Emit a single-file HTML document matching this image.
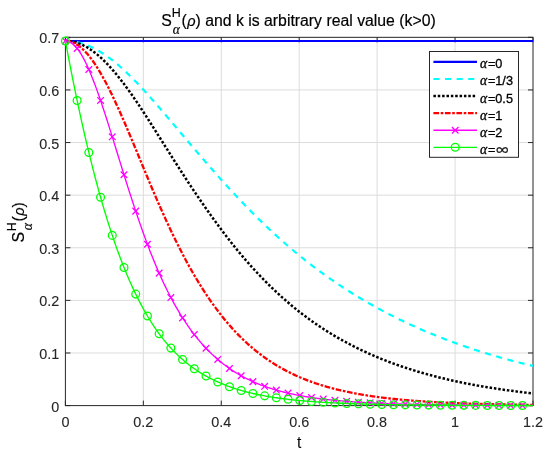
<!DOCTYPE html>
<html><head><meta charset="utf-8"><title>plot</title>
<style>html,body{margin:0;padding:0;background:#fff;}svg{display:block;}</style>
</head><body>
<svg width="550" height="457" viewBox="0 0 550 457">
<rect width="550" height="457" fill="#fff"/>
<g stroke="#dcdcdc" stroke-width="1" fill="none">
<line x1="143.33" y1="37.33" x2="143.33" y2="405.60"/>
<line x1="221.27" y1="37.33" x2="221.27" y2="405.60"/>
<line x1="299.20" y1="37.33" x2="299.20" y2="405.60"/>
<line x1="377.13" y1="37.33" x2="377.13" y2="405.60"/>
<line x1="455.07" y1="37.33" x2="455.07" y2="405.60"/>
<line x1="65.40" y1="352.99" x2="533.00" y2="352.99"/>
<line x1="65.40" y1="300.38" x2="533.00" y2="300.38"/>
<line x1="65.40" y1="247.77" x2="533.00" y2="247.77"/>
<line x1="65.40" y1="195.16" x2="533.00" y2="195.16"/>
<line x1="65.40" y1="142.55" x2="533.00" y2="142.55"/>
<line x1="65.40" y1="89.94" x2="533.00" y2="89.94"/>
</g>
<g stroke="#262626" stroke-width="1" fill="none">
<line x1="65.40" y1="405.60" x2="65.40" y2="400.60"/>
<line x1="65.40" y1="37.33" x2="65.40" y2="42.33"/>
<line x1="143.33" y1="405.60" x2="143.33" y2="400.60"/>
<line x1="143.33" y1="37.33" x2="143.33" y2="42.33"/>
<line x1="221.27" y1="405.60" x2="221.27" y2="400.60"/>
<line x1="221.27" y1="37.33" x2="221.27" y2="42.33"/>
<line x1="299.20" y1="405.60" x2="299.20" y2="400.60"/>
<line x1="299.20" y1="37.33" x2="299.20" y2="42.33"/>
<line x1="377.13" y1="405.60" x2="377.13" y2="400.60"/>
<line x1="377.13" y1="37.33" x2="377.13" y2="42.33"/>
<line x1="455.07" y1="405.60" x2="455.07" y2="400.60"/>
<line x1="455.07" y1="37.33" x2="455.07" y2="42.33"/>
<line x1="533.00" y1="405.60" x2="533.00" y2="400.60"/>
<line x1="533.00" y1="37.33" x2="533.00" y2="42.33"/>
<line x1="65.40" y1="405.60" x2="70.40" y2="405.60"/>
<line x1="533.00" y1="405.60" x2="528.00" y2="405.60"/>
<line x1="65.40" y1="352.99" x2="70.40" y2="352.99"/>
<line x1="533.00" y1="352.99" x2="528.00" y2="352.99"/>
<line x1="65.40" y1="300.38" x2="70.40" y2="300.38"/>
<line x1="533.00" y1="300.38" x2="528.00" y2="300.38"/>
<line x1="65.40" y1="247.77" x2="70.40" y2="247.77"/>
<line x1="533.00" y1="247.77" x2="528.00" y2="247.77"/>
<line x1="65.40" y1="195.16" x2="70.40" y2="195.16"/>
<line x1="533.00" y1="195.16" x2="528.00" y2="195.16"/>
<line x1="65.40" y1="142.55" x2="70.40" y2="142.55"/>
<line x1="533.00" y1="142.55" x2="528.00" y2="142.55"/>
<line x1="65.40" y1="89.94" x2="70.40" y2="89.94"/>
<line x1="533.00" y1="89.94" x2="528.00" y2="89.94"/>
<line x1="65.40" y1="37.33" x2="70.40" y2="37.33"/>
<line x1="533.00" y1="37.33" x2="528.00" y2="37.33"/>
<rect x="65.40" y="37.33" width="467.60" height="368.27"/>
</g>
<g style="font-family:'Liberation Sans',Arial,Helvetica,sans-serif;font-size:14.4px" fill="#262626" stroke="#262626" stroke-width="0.1">
<text x="65.40" y="426.8" text-anchor="middle">0</text>
<text x="143.33" y="426.8" text-anchor="middle">0.2</text>
<text x="221.27" y="426.8" text-anchor="middle">0.4</text>
<text x="299.20" y="426.8" text-anchor="middle">0.6</text>
<text x="377.13" y="426.8" text-anchor="middle">0.8</text>
<text x="455.07" y="426.8" text-anchor="middle">1</text>
<text x="533.00" y="426.8" text-anchor="middle">1.2</text>
<text x="59.2" y="411.60" text-anchor="end">0</text>
<text x="59.2" y="358.99" text-anchor="end">0.1</text>
<text x="59.2" y="306.38" text-anchor="end">0.2</text>
<text x="59.2" y="253.77" text-anchor="end">0.3</text>
<text x="59.2" y="201.16" text-anchor="end">0.4</text>
<text x="59.2" y="148.55" text-anchor="end">0.5</text>
<text x="59.2" y="95.94" text-anchor="end">0.6</text>
<text x="59.2" y="43.33" text-anchor="end">0.7</text>
</g>
<g fill="none" stroke-linejoin="round">
<path d="M65.40 40.94 L533.00 40.94" stroke="#0000ff" stroke-width="2.1"/>
<path d="M65.40,40.94 L66.57,40.95 L67.74,40.99 L68.92,41.05 L70.09,41.14 L71.26,41.25 L72.43,41.39 L73.60,41.56 L74.78,41.75 L75.95,41.96 L77.12,42.20 L78.29,42.46 L79.46,42.75 L80.64,43.07 L81.81,43.41 L82.98,43.77 L84.15,44.16 L85.32,44.57 L86.49,45.00 L87.67,45.46 L88.84,45.94 L90.01,46.45 L91.18,46.98 L92.35,47.53 L93.53,48.10 L94.70,48.70 L95.87,49.32 L97.04,49.96 L98.21,50.62 L99.39,51.30 L100.56,52.01 L101.73,52.74 L102.90,53.48 L104.07,54.25 L105.25,55.04 L106.42,55.85 L107.59,56.67 L108.76,57.52 L109.93,58.39 L111.11,59.27 L112.28,60.17 L113.45,61.10 L114.62,62.03 L115.79,62.99 L116.96,63.96 L118.14,64.95 L119.31,65.96 L120.48,66.98 L121.65,68.02 L122.82,69.08 L124.00,70.14 L125.17,71.23 L126.34,72.33 L127.51,73.44 L128.68,74.57 L129.86,75.71 L131.03,76.86 L132.20,78.03 L133.37,79.21 L134.54,80.40 L135.72,81.60 L136.89,82.81 L138.06,84.04 L139.23,85.28 L140.40,86.52 L141.58,87.78 L142.75,89.05 L143.92,90.33 L145.09,91.61 L146.26,92.90 L147.44,94.20 L148.61,95.51 L149.78,96.82 L150.95,98.14 L152.12,99.47 L153.29,100.80 L154.47,102.14 L155.64,103.48 L156.81,104.83 L157.98,106.18 L159.15,107.53 L160.33,108.89 L161.50,110.25 L162.67,111.62 L163.84,112.99 L165.01,114.36 L166.19,115.73 L167.36,117.11 L168.53,118.48 L169.70,119.86 L170.87,121.24 L172.05,122.63 L173.22,124.01 L174.39,125.39 L175.56,126.78 L176.73,128.16 L177.91,129.55 L179.08,130.93 L180.25,132.32 L181.42,133.70 L182.59,135.08 L183.76,136.47 L184.94,137.85 L186.11,139.23 L187.28,140.61 L188.45,141.99 L189.62,143.37 L190.80,144.74 L191.97,146.12 L193.14,147.49 L194.31,148.86 L195.48,150.23 L196.66,151.60 L197.83,152.97 L199.00,154.33 L200.17,155.69 L201.34,157.05 L202.52,158.40 L203.69,159.76 L204.86,161.11 L206.03,162.46 L207.20,163.80 L208.38,165.14 L209.55,166.48 L210.72,167.82 L211.89,169.16 L213.06,170.49 L214.24,171.82 L215.41,173.14 L216.58,174.47 L217.75,175.79 L218.92,177.11 L220.09,178.42 L221.27,179.73 L222.44,181.04 L223.61,182.34 L224.78,183.64 L225.95,184.94 L227.13,186.23 L228.30,187.51 L229.47,188.79 L230.64,190.07 L231.81,191.34 L232.99,192.60 L234.16,193.86 L235.33,195.12 L236.50,196.37 L237.67,197.62 L238.85,198.86 L240.02,200.09 L241.19,201.32 L242.36,202.55 L243.53,203.76 L244.71,204.98 L245.88,206.19 L247.05,207.39 L248.22,208.59 L249.39,209.78 L250.56,210.97 L251.74,212.15 L252.91,213.33 L254.08,214.50 L255.25,215.66 L256.42,216.82 L257.60,217.98 L258.77,219.13 L259.94,220.27 L261.11,221.41 L262.28,222.54 L263.46,223.67 L264.63,224.79 L265.80,225.90 L266.97,227.01 L268.14,228.12 L269.32,229.22 L270.49,230.31 L271.66,231.40 L272.83,232.48 L274.00,233.55 L275.18,234.63 L276.35,235.69 L277.52,236.75 L278.69,237.80 L279.86,238.85 L281.04,239.90 L282.21,240.93 L283.38,241.97 L284.55,242.99 L285.72,244.01 L286.89,245.03 L288.07,246.04 L289.24,247.05 L290.41,248.05 L291.58,249.04 L292.75,250.03 L293.93,251.01 L295.10,251.99 L296.27,252.96 L297.44,253.93 L298.61,254.89 L299.79,255.85 L300.96,256.80 L302.13,257.75 L303.30,258.69 L304.47,259.62 L305.65,260.55 L306.82,261.47 L307.99,262.39 L309.16,263.30 L310.33,264.21 L311.51,265.11 L312.68,266.01 L313.85,266.90 L315.02,267.78 L316.19,268.66 L317.36,269.53 L318.54,270.40 L319.71,271.27 L320.88,272.13 L322.05,272.98 L323.22,273.83 L324.40,274.67 L325.57,275.51 L326.74,276.34 L327.91,277.17 L329.08,277.99 L330.26,278.81 L331.43,279.62 L332.60,280.43 L333.77,281.23 L334.94,282.03 L336.12,282.83 L337.29,283.61 L338.46,284.40 L339.63,285.18 L340.80,285.95 L341.98,286.72 L343.15,287.49 L344.32,288.25 L345.49,289.01 L346.66,289.76 L347.84,290.50 L349.01,291.25 L350.18,291.99 L351.35,292.72 L352.52,293.45 L353.69,294.18 L354.87,294.90 L356.04,295.62 L357.21,296.33 L358.38,297.04 L359.55,297.74 L360.73,298.44 L361.90,299.14 L363.07,299.83 L364.24,300.52 L365.41,301.21 L366.59,301.89 L367.76,302.56 L368.93,303.24 L370.10,303.90 L371.27,304.57 L372.45,305.23 L373.62,305.89 L374.79,306.54 L375.96,307.19 L377.13,307.84 L378.31,308.48 L379.48,309.12 L380.65,309.76 L381.82,310.39 L382.99,311.02 L384.16,311.64 L385.34,312.26 L386.51,312.87 L387.68,313.48 L388.85,314.09 L390.02,314.70 L391.20,315.30 L392.37,315.89 L393.54,316.48 L394.71,317.07 L395.88,317.66 L397.06,318.24 L398.23,318.82 L399.40,319.39 L400.57,319.96 L401.74,320.53 L402.92,321.09 L404.09,321.65 L405.26,322.21 L406.43,322.76 L407.60,323.31 L408.78,323.86 L409.95,324.40 L411.12,324.94 L412.29,325.48 L413.46,326.01 L414.64,326.54 L415.81,327.07 L416.98,327.59 L418.15,328.11 L419.32,328.63 L420.49,329.14 L421.67,329.65 L422.84,330.16 L424.01,330.66 L425.18,331.16 L426.35,331.66 L427.53,332.15 L428.70,332.64 L429.87,333.13 L431.04,333.62 L432.21,334.10 L433.39,334.58 L434.56,335.05 L435.73,335.53 L436.90,336.00 L438.07,336.47 L439.25,336.93 L440.42,337.39 L441.59,337.85 L442.76,338.31 L443.93,338.76 L445.11,339.21 L446.28,339.66 L447.45,340.11 L448.62,340.55 L449.79,340.99 L450.96,341.42 L452.14,341.86 L453.31,342.29 L454.48,342.72 L455.65,343.15 L456.82,343.57 L458.00,343.99 L459.17,344.41 L460.34,344.82 L461.51,345.24 L462.68,345.65 L463.86,346.05 L465.03,346.46 L466.20,346.86 L467.37,347.26 L468.54,347.66 L469.72,348.05 L470.89,348.44 L472.06,348.83 L473.23,349.22 L474.40,349.60 L475.58,349.98 L476.75,350.36 L477.92,350.74 L479.09,351.11 L480.26,351.48 L481.44,351.85 L482.61,352.22 L483.78,352.59 L484.95,352.95 L486.12,353.31 L487.29,353.66 L488.47,354.02 L489.64,354.37 L490.81,354.72 L491.98,355.07 L493.15,355.42 L494.33,355.76 L495.50,356.10 L496.67,356.44 L497.84,356.78 L499.01,357.11 L500.19,357.45 L501.36,357.78 L502.53,358.11 L503.70,358.43 L504.87,358.76 L506.05,359.08 L507.22,359.40 L508.39,359.72 L509.56,360.04 L510.73,360.35 L511.91,360.66 L513.08,360.97 L514.25,361.28 L515.42,361.59 L516.59,361.89 L517.76,362.19 L518.94,362.49 L520.11,362.79 L521.28,363.09 L522.45,363.38 L523.62,363.68 L524.80,363.97 L525.97,364.26 L527.14,364.54 L528.31,364.83 L529.48,365.11 L530.66,365.40 L531.83,365.68 L533.00,365.95" stroke="#00ffff" stroke-width="2.2" stroke-dasharray="6.1 5.5"/>
<path d="M65.40,40.94 L66.57,40.95 L67.74,41.01 L68.92,41.11 L70.09,41.24 L71.26,41.41 L72.43,41.62 L73.60,41.87 L74.78,42.15 L75.95,42.47 L77.12,42.83 L78.29,43.23 L79.46,43.66 L80.64,44.13 L81.81,44.64 L82.98,45.18 L84.15,45.76 L85.32,46.37 L86.49,47.02 L87.67,47.70 L88.84,48.42 L90.01,49.18 L91.18,49.96 L92.35,50.78 L93.53,51.64 L94.70,52.53 L95.87,53.45 L97.04,54.40 L98.21,55.38 L99.39,56.39 L100.56,57.44 L101.73,58.51 L102.90,59.62 L104.07,60.75 L105.25,61.92 L106.42,63.11 L107.59,64.33 L108.76,65.57 L109.93,66.84 L111.11,68.14 L112.28,69.47 L113.45,70.81 L114.62,72.19 L115.79,73.58 L116.96,75.00 L118.14,76.45 L119.31,77.91 L120.48,79.40 L121.65,80.91 L122.82,82.43 L124.00,83.98 L125.17,85.55 L126.34,87.14 L127.51,88.74 L128.68,90.36 L129.86,92.00 L131.03,93.65 L132.20,95.33 L133.37,97.01 L134.54,98.71 L135.72,100.43 L136.89,102.16 L138.06,103.90 L139.23,105.65 L140.40,107.42 L141.58,109.19 L142.75,110.98 L143.92,112.78 L145.09,114.58 L146.26,116.40 L147.44,118.22 L148.61,120.04 L149.78,121.88 L150.95,123.71 L152.12,125.56 L153.29,127.40 L154.47,129.25 L155.64,131.10 L156.81,132.96 L157.98,134.82 L159.15,136.68 L160.33,138.54 L161.50,140.40 L162.67,142.26 L163.84,144.12 L165.01,145.98 L166.19,147.84 L167.36,149.70 L168.53,151.56 L169.70,153.41 L170.87,155.27 L172.05,157.12 L173.22,158.96 L174.39,160.81 L175.56,162.65 L176.73,164.48 L177.91,166.32 L179.08,168.14 L180.25,169.97 L181.42,171.79 L182.59,173.60 L183.76,175.41 L184.94,177.21 L186.11,179.01 L187.28,180.80 L188.45,182.58 L189.62,184.36 L190.80,186.13 L191.97,187.90 L193.14,189.65 L194.31,191.41 L195.48,193.15 L196.66,194.89 L197.83,196.62 L199.00,198.34 L200.17,200.05 L201.34,201.76 L202.52,203.46 L203.69,205.15 L204.86,206.84 L206.03,208.51 L207.20,210.18 L208.38,211.84 L209.55,213.49 L210.72,215.14 L211.89,216.78 L213.06,218.40 L214.24,220.02 L215.41,221.64 L216.58,223.24 L217.75,224.83 L218.92,226.42 L220.09,228.00 L221.27,229.57 L222.44,231.13 L223.61,232.69 L224.78,234.23 L225.95,235.76 L227.13,237.28 L228.30,238.79 L229.47,240.30 L230.64,241.79 L231.81,243.27 L232.99,244.74 L234.16,246.20 L235.33,247.65 L236.50,249.09 L237.67,250.52 L238.85,251.94 L240.02,253.35 L241.19,254.75 L242.36,256.14 L243.53,257.52 L244.71,258.88 L245.88,260.24 L247.05,261.59 L248.22,262.93 L249.39,264.25 L250.56,265.57 L251.74,266.88 L252.91,268.17 L254.08,269.46 L255.25,270.73 L256.42,272.00 L257.60,273.25 L258.77,274.50 L259.94,275.74 L261.11,276.96 L262.28,278.18 L263.46,279.38 L264.63,280.58 L265.80,281.76 L266.97,282.94 L268.14,284.11 L269.32,285.26 L270.49,286.41 L271.66,287.55 L272.83,288.68 L274.00,289.79 L275.18,290.90 L276.35,292.00 L277.52,293.09 L278.69,294.17 L279.86,295.24 L281.04,296.31 L282.21,297.36 L283.38,298.40 L284.55,299.44 L285.72,300.46 L286.89,301.48 L288.07,302.49 L289.24,303.49 L290.41,304.48 L291.58,305.46 L292.75,306.44 L293.93,307.40 L295.10,308.36 L296.27,309.30 L297.44,310.24 L298.61,311.17 L299.79,312.10 L300.96,313.01 L302.13,313.92 L303.30,314.81 L304.47,315.70 L305.65,316.58 L306.82,317.45 L307.99,318.32 L309.16,319.17 L310.33,320.02 L311.51,320.86 L312.68,321.69 L313.85,322.51 L315.02,323.33 L316.19,324.14 L317.36,324.94 L318.54,325.73 L319.71,326.52 L320.88,327.29 L322.05,328.06 L323.22,328.83 L324.40,329.58 L325.57,330.33 L326.74,331.07 L327.91,331.81 L329.08,332.53 L330.26,333.25 L331.43,333.97 L332.60,334.67 L333.77,335.37 L334.94,336.07 L336.12,336.75 L337.29,337.44 L338.46,338.11 L339.63,338.78 L340.80,339.44 L341.98,340.09 L343.15,340.74 L344.32,341.38 L345.49,342.02 L346.66,342.65 L347.84,343.28 L349.01,343.89 L350.18,344.51 L351.35,345.11 L352.52,345.72 L353.69,346.31 L354.87,346.90 L356.04,347.49 L357.21,348.06 L358.38,348.64 L359.55,349.21 L360.73,349.77 L361.90,350.33 L363.07,350.88 L364.24,351.43 L365.41,351.97 L366.59,352.51 L367.76,353.04 L368.93,353.57 L370.10,354.09 L371.27,354.61 L372.45,355.12 L373.62,355.63 L374.79,356.13 L375.96,356.63 L377.13,357.12 L378.31,357.61 L379.48,358.10 L380.65,358.58 L381.82,359.05 L382.99,359.52 L384.16,359.99 L385.34,360.45 L386.51,360.91 L387.68,361.36 L388.85,361.81 L390.02,362.25 L391.20,362.69 L392.37,363.12 L393.54,363.56 L394.71,363.98 L395.88,364.40 L397.06,364.82 L398.23,365.24 L399.40,365.64 L400.57,366.05 L401.74,366.45 L402.92,366.85 L404.09,367.24 L405.26,367.63 L406.43,368.02 L407.60,368.40 L408.78,368.78 L409.95,369.15 L411.12,369.53 L412.29,369.89 L413.46,370.26 L414.64,370.62 L415.81,370.97 L416.98,371.33 L418.15,371.68 L419.32,372.02 L420.49,372.37 L421.67,372.71 L422.84,373.04 L424.01,373.37 L425.18,373.70 L426.35,374.03 L427.53,374.35 L428.70,374.67 L429.87,374.99 L431.04,375.30 L432.21,375.61 L433.39,375.92 L434.56,376.23 L435.73,376.53 L436.90,376.83 L438.07,377.12 L439.25,377.42 L440.42,377.71 L441.59,377.99 L442.76,378.28 L443.93,378.56 L445.11,378.84 L446.28,379.11 L447.45,379.39 L448.62,379.66 L449.79,379.93 L450.96,380.19 L452.14,380.45 L453.31,380.71 L454.48,380.97 L455.65,381.23 L456.82,381.48 L458.00,381.73 L459.17,381.98 L460.34,382.22 L461.51,382.46 L462.68,382.70 L463.86,382.94 L465.03,383.18 L466.20,383.41 L467.37,383.64 L468.54,383.87 L469.72,384.09 L470.89,384.32 L472.06,384.54 L473.23,384.76 L474.40,384.97 L475.58,385.19 L476.75,385.40 L477.92,385.61 L479.09,385.82 L480.26,386.02 L481.44,386.23 L482.61,386.43 L483.78,386.63 L484.95,386.83 L486.12,387.02 L487.29,387.22 L488.47,387.41 L489.64,387.60 L490.81,387.79 L491.98,387.97 L493.15,388.16 L494.33,388.34 L495.50,388.52 L496.67,388.70 L497.84,388.87 L499.01,389.05 L500.19,389.22 L501.36,389.39 L502.53,389.56 L503.70,389.73 L504.87,389.90 L506.05,390.06 L507.22,390.22 L508.39,390.38 L509.56,390.54 L510.73,390.70 L511.91,390.86 L513.08,391.01 L514.25,391.17 L515.42,391.32 L516.59,391.47 L517.76,391.62 L518.94,391.77 L520.11,391.91 L521.28,392.06 L522.45,392.20 L523.62,392.34 L524.80,392.48 L525.97,392.62 L527.14,392.76 L528.31,392.89 L529.48,393.03 L530.66,393.16 L531.83,393.29 L533.00,393.42" stroke="#000000" stroke-width="2.5" stroke-dasharray="2.5 1.86"/>
<path d="M65.40,40.94 L66.57,40.97 L67.74,41.09 L68.92,41.28 L70.09,41.54 L71.26,41.89 L72.43,42.30 L73.60,42.79 L74.78,43.36 L75.95,44.00 L77.12,44.71 L78.29,45.50 L79.46,46.36 L80.64,47.29 L81.81,48.29 L82.98,49.36 L84.15,50.50 L85.32,51.71 L86.49,52.99 L87.67,54.33 L88.84,55.73 L90.01,57.20 L91.18,58.74 L92.35,60.33 L93.53,61.98 L94.70,63.69 L95.87,65.46 L97.04,67.29 L98.21,69.17 L99.39,71.10 L100.56,73.09 L101.73,75.12 L102.90,77.21 L104.07,79.34 L105.25,81.52 L106.42,83.74 L107.59,86.00 L108.76,88.31 L109.93,90.65 L111.11,93.04 L112.28,95.45 L113.45,97.91 L114.62,100.39 L115.79,102.91 L116.96,105.46 L118.14,108.04 L119.31,110.64 L120.48,113.27 L121.65,115.92 L122.82,118.60 L124.00,121.29 L125.17,124.00 L126.34,126.74 L127.51,129.48 L128.68,132.25 L129.86,135.02 L131.03,137.81 L132.20,140.61 L133.37,143.41 L134.54,146.23 L135.72,149.05 L136.89,151.87 L138.06,154.70 L139.23,157.53 L140.40,160.37 L141.58,163.20 L142.75,166.03 L143.92,168.86 L145.09,171.69 L146.26,174.51 L147.44,177.32 L148.61,180.12 L149.78,182.91 L150.95,185.69 L152.12,188.45 L153.29,191.21 L154.47,193.95 L155.64,196.68 L156.81,199.39 L157.98,202.08 L159.15,204.76 L160.33,207.42 L161.50,210.07 L162.67,212.69 L163.84,215.30 L165.01,217.88 L166.19,220.45 L167.36,223.00 L168.53,225.52 L169.70,228.03 L170.87,230.51 L172.05,232.97 L173.22,235.41 L174.39,237.82 L175.56,240.21 L176.73,242.58 L177.91,244.93 L179.08,247.25 L180.25,249.55 L181.42,251.83 L182.59,254.08 L183.76,256.31 L184.94,258.52 L186.11,260.70 L187.28,262.85 L188.45,264.99 L189.62,267.10 L190.80,269.18 L191.97,271.24 L193.14,273.28 L194.31,275.29 L195.48,277.28 L196.66,279.25 L197.83,281.19 L199.00,283.11 L200.17,285.00 L201.34,286.88 L202.52,288.72 L203.69,290.55 L204.86,292.35 L206.03,294.13 L207.20,295.89 L208.38,297.63 L209.55,299.34 L210.72,301.03 L211.89,302.70 L213.06,304.35 L214.24,305.98 L215.41,307.58 L216.58,309.17 L217.75,310.73 L218.92,312.27 L220.09,313.80 L221.27,315.30 L222.44,316.78 L223.61,318.24 L224.78,319.68 L225.95,321.10 L227.13,322.49 L228.30,323.87 L229.47,325.23 L230.64,326.56 L231.81,327.88 L232.99,329.17 L234.16,330.45 L235.33,331.71 L236.50,332.95 L237.67,334.17 L238.85,335.37 L240.02,336.55 L241.19,337.71 L242.36,338.86 L243.53,339.99 L244.71,341.10 L245.88,342.19 L247.05,343.27 L248.22,344.32 L249.39,345.37 L250.56,346.39 L251.74,347.40 L252.91,348.39 L254.08,349.37 L255.25,350.33 L256.42,351.28 L257.60,352.21 L258.77,353.13 L259.94,354.03 L261.11,354.91 L262.28,355.79 L263.46,356.64 L264.63,357.49 L265.80,358.32 L266.97,359.14 L268.14,359.94 L269.32,360.73 L270.49,361.51 L271.66,362.27 L272.83,363.02 L274.00,363.76 L275.18,364.49 L276.35,365.20 L277.52,365.91 L278.69,366.60 L279.86,367.28 L281.04,367.95 L282.21,368.60 L283.38,369.25 L284.55,369.88 L285.72,370.51 L286.89,371.12 L288.07,371.73 L289.24,372.32 L290.41,372.90 L291.58,373.48 L292.75,374.04 L293.93,374.60 L295.10,375.14 L296.27,375.68 L297.44,376.21 L298.61,376.72 L299.79,377.23 L300.96,377.73 L302.13,378.23 L303.30,378.71 L304.47,379.18 L305.65,379.65 L306.82,380.11 L307.99,380.56 L309.16,381.00 L310.33,381.44 L311.51,381.86 L312.68,382.28 L313.85,382.69 L315.02,383.10 L316.19,383.50 L317.36,383.89 L318.54,384.27 L319.71,384.65 L320.88,385.02 L322.05,385.38 L323.22,385.74 L324.40,386.09 L325.57,386.44 L326.74,386.78 L327.91,387.11 L329.08,387.44 L330.26,387.76 L331.43,388.08 L332.60,388.39 L333.77,388.69 L334.94,388.99 L336.12,389.29 L337.29,389.58 L338.46,389.86 L339.63,390.14 L340.80,390.42 L341.98,390.69 L343.15,390.95 L344.32,391.21 L345.49,391.47 L346.66,391.72 L347.84,391.97 L349.01,392.21 L350.18,392.45 L351.35,392.68 L352.52,392.91 L353.69,393.14 L354.87,393.36 L356.04,393.58 L357.21,393.80 L358.38,394.01 L359.55,394.22 L360.73,394.42 L361.90,394.62 L363.07,394.82 L364.24,395.01 L365.41,395.20 L366.59,395.39 L367.76,395.57 L368.93,395.75 L370.10,395.93 L371.27,396.10 L372.45,396.27 L373.62,396.44 L374.79,396.61 L375.96,396.77 L377.13,396.93 L378.31,397.09 L379.48,397.24 L380.65,397.39 L381.82,397.54 L382.99,397.69 L384.16,397.83 L385.34,397.97 L386.51,398.11 L387.68,398.25 L388.85,398.38 L390.02,398.51 L391.20,398.64 L392.37,398.77 L393.54,398.89 L394.71,399.01 L395.88,399.13 L397.06,399.25 L398.23,399.37 L399.40,399.48 L400.57,399.59 L401.74,399.70 L402.92,399.81 L404.09,399.91 L405.26,400.02 L406.43,400.12 L407.60,400.22 L408.78,400.32 L409.95,400.41 L411.12,400.51 L412.29,400.60 L413.46,400.69 L414.64,400.78 L415.81,400.87 L416.98,400.96 L418.15,401.04 L419.32,401.13 L420.49,401.21 L421.67,401.29 L422.84,401.37 L424.01,401.45 L425.18,401.52 L426.35,401.60 L427.53,401.67 L428.70,401.74 L429.87,401.81 L431.04,401.88 L432.21,401.95 L433.39,402.02 L434.56,402.08 L435.73,402.15 L436.90,402.21 L438.07,402.28 L439.25,402.34 L440.42,402.40 L441.59,402.46 L442.76,402.51 L443.93,402.57 L445.11,402.63 L446.28,402.68 L447.45,402.74 L448.62,402.79 L449.79,402.84 L450.96,402.89 L452.14,402.94 L453.31,402.99 L454.48,403.04 L455.65,403.09 L456.82,403.14 L458.00,403.18 L459.17,403.23 L460.34,403.27 L461.51,403.32 L462.68,403.36 L463.86,403.40 L465.03,403.44 L466.20,403.48 L467.37,403.52 L468.54,403.56 L469.72,403.60 L470.89,403.64 L472.06,403.67 L473.23,403.71 L474.40,403.74 L475.58,403.78 L476.75,403.81 L477.92,403.85 L479.09,403.88 L480.26,403.91 L481.44,403.94 L482.61,403.97 L483.78,404.00 L484.95,404.03 L486.12,404.06 L487.29,404.09 L488.47,404.12 L489.64,404.15 L490.81,404.18 L491.98,404.20 L493.15,404.23 L494.33,404.26 L495.50,404.28 L496.67,404.31 L497.84,404.33 L499.01,404.35 L500.19,404.38 L501.36,404.40 L502.53,404.42 L503.70,404.45 L504.87,404.47 L506.05,404.49 L507.22,404.51 L508.39,404.53 L509.56,404.55 L510.73,404.57 L511.91,404.59 L513.08,404.61 L514.25,404.63 L515.42,404.65 L516.59,404.66 L517.76,404.68 L518.94,404.70 L520.11,404.72 L521.28,404.73 L522.45,404.75 L523.62,404.77 L524.80,404.78 L525.97,404.80 L527.14,404.81 L528.31,404.83 L529.48,404.84 L530.66,404.86 L531.83,404.87 L533.00,404.89" stroke="#ff0000" stroke-width="2.3" stroke-dasharray="5.7 1.6 2.6 1.6"/>
<path d="M65.40,40.94 L66.57,41.01 L67.74,41.24 L68.92,41.62 L70.09,42.15 L71.26,42.83 L72.43,43.66 L73.60,44.64 L74.78,45.76 L75.95,47.02 L77.12,48.42 L78.29,49.96 L79.46,51.64 L80.64,53.45 L81.81,55.38 L82.98,57.44 L84.15,59.62 L85.32,61.92 L86.49,64.33 L87.67,66.84 L88.84,69.47 L90.01,72.19 L91.18,75.00 L92.35,77.91 L93.53,80.91 L94.70,83.98 L95.87,87.14 L97.04,90.36 L98.21,93.65 L99.39,97.01 L100.56,100.43 L101.73,103.90 L102.90,107.42 L104.07,110.98 L105.25,114.59 L106.42,118.23 L107.59,121.90 L108.76,125.61 L109.93,129.34 L111.11,133.09 L112.28,136.85 L113.45,140.63 L114.62,144.42 L115.79,148.22 L116.96,152.02 L118.14,155.82 L119.31,159.62 L120.48,163.41 L121.65,167.19 L122.82,170.97 L124.00,174.73 L125.17,178.47 L126.34,182.20 L127.51,185.90 L128.68,189.59 L129.86,193.25 L131.03,196.88 L132.20,200.49 L133.37,204.07 L134.54,207.61 L135.72,211.13 L136.89,214.61 L138.06,218.06 L139.23,221.47 L140.40,224.85 L141.58,228.18 L142.75,231.48 L143.92,234.74 L145.09,237.96 L146.26,241.14 L147.44,244.27 L148.61,247.36 L149.78,250.40 L150.95,253.40 L152.12,256.35 L153.29,259.26 L154.47,262.12 L155.64,264.94 L156.81,267.72 L157.98,270.45 L159.15,273.13 L160.33,275.77 L161.50,278.36 L162.67,280.91 L163.84,283.42 L165.01,285.88 L166.19,288.30 L167.36,290.68 L168.53,293.01 L169.70,295.31 L170.87,297.56 L172.05,299.76 L173.22,301.93 L174.39,304.06 L175.56,306.15 L176.73,308.20 L177.91,310.21 L179.08,312.18 L180.25,314.12 L181.42,316.01 L182.59,317.87 L183.76,319.70 L184.94,321.49 L186.11,323.24 L187.28,324.96 L188.45,326.65 L189.62,328.30 L190.80,329.92 L191.97,331.51 L193.14,333.07 L194.31,334.59 L195.48,336.09 L196.66,337.55 L197.83,338.99 L199.00,340.40 L200.17,341.77 L201.34,343.13 L202.52,344.45 L203.69,345.75 L204.86,347.02 L206.03,348.26 L207.20,349.48 L208.38,350.68 L209.55,351.85 L210.72,353.00 L211.89,354.12 L213.06,355.22 L214.24,356.30 L215.41,357.36 L216.58,358.40 L217.75,359.41 L218.92,360.40 L220.09,361.38 L221.27,362.33 L222.44,363.27 L223.61,364.18 L224.78,365.08 L225.95,365.95 L227.13,366.81 L228.30,367.65 L229.47,368.47 L230.64,369.27 L231.81,370.06 L232.99,370.83 L234.16,371.58 L235.33,372.31 L236.50,373.03 L237.67,373.74 L238.85,374.43 L240.02,375.10 L241.19,375.76 L242.36,376.41 L243.53,377.04 L244.71,377.66 L245.88,378.26 L247.05,378.85 L248.22,379.43 L249.39,380.00 L250.56,380.55 L251.74,381.09 L252.91,381.62 L254.08,382.14 L255.25,382.65 L256.42,383.14 L257.60,383.63 L258.77,384.10 L259.94,384.57 L261.11,385.02 L262.28,385.46 L263.46,385.90 L264.63,386.32 L265.80,386.74 L266.97,387.14 L268.14,387.54 L269.32,387.93 L270.49,388.31 L271.66,388.68 L272.83,389.05 L274.00,389.40 L275.18,389.75 L276.35,390.09 L277.52,390.43 L278.69,390.75 L279.86,391.07 L281.04,391.39 L282.21,391.69 L283.38,391.99 L284.55,392.28 L285.72,392.57 L286.89,392.85 L288.07,393.12 L289.24,393.39 L290.41,393.65 L291.58,393.91 L292.75,394.16 L293.93,394.40 L295.10,394.64 L296.27,394.88 L297.44,395.11 L298.61,395.33 L299.79,395.55 L300.96,395.77 L302.13,395.98 L303.30,396.18 L304.47,396.39 L305.65,396.58 L306.82,396.77 L307.99,396.96 L309.16,397.15 L310.33,397.33 L311.51,397.50 L312.68,397.68 L313.85,397.84 L315.02,398.01 L316.19,398.17 L317.36,398.33 L318.54,398.48 L319.71,398.63 L320.88,398.78 L322.05,398.92 L323.22,399.07 L324.40,399.20 L325.57,399.34 L326.74,399.47 L327.91,399.60 L329.08,399.73 L330.26,399.85 L331.43,399.97 L332.60,400.09 L333.77,400.21 L334.94,400.32 L336.12,400.43 L337.29,400.54 L338.46,400.65 L339.63,400.75 L340.80,400.85 L341.98,400.95 L343.15,401.05 L344.32,401.15 L345.49,401.24 L346.66,401.33 L347.84,401.42 L349.01,401.51 L350.18,401.60 L351.35,401.68 L352.52,401.76 L353.69,401.84 L354.87,401.92 L356.04,402.00 L357.21,402.08 L358.38,402.15 L359.55,402.22 L360.73,402.29 L361.90,402.36 L363.07,402.43 L364.24,402.50 L365.41,402.56 L366.59,402.63 L367.76,402.69 L368.93,402.75 L370.10,402.81 L371.27,402.87 L372.45,402.93 L373.62,402.98 L374.79,403.04 L375.96,403.09 L377.13,403.14 L378.31,403.20 L379.48,403.25 L380.65,403.30 L381.82,403.34 L382.99,403.39 L384.16,403.44 L385.34,403.48 L386.51,403.53 L387.68,403.57 L388.85,403.61 L390.02,403.66 L391.20,403.70 L392.37,403.74 L393.54,403.78 L394.71,403.81 L395.88,403.85 L397.06,403.89 L398.23,403.92 L399.40,403.96 L400.57,403.99 L401.74,404.03 L402.92,404.06 L404.09,404.09 L405.26,404.12 L406.43,404.16 L407.60,404.19 L408.78,404.22 L409.95,404.24 L411.12,404.27 L412.29,404.30 L413.46,404.33 L414.64,404.36 L415.81,404.38 L416.98,404.41 L418.15,404.43 L419.32,404.46 L420.49,404.48 L421.67,404.50 L422.84,404.53 L424.01,404.55 L425.18,404.57 L426.35,404.59 L427.53,404.61 L428.70,404.63 L429.87,404.66 L431.04,404.67 L432.21,404.69 L433.39,404.71 L434.56,404.73 L435.73,404.75 L436.90,404.77 L438.07,404.79 L439.25,404.80 L440.42,404.82 L441.59,404.84 L442.76,404.85 L443.93,404.87 L445.11,404.88 L446.28,404.90 L447.45,404.91 L448.62,404.93 L449.79,404.94 L450.96,404.96 L452.14,404.97 L453.31,404.98 L454.48,405.00 L455.65,405.01 L456.82,405.02 L458.00,405.03 L459.17,405.04 L460.34,405.06 L461.51,405.07 L462.68,405.08 L463.86,405.09 L465.03,405.10 L466.20,405.11 L467.37,405.12 L468.54,405.13 L469.72,405.14 L470.89,405.15 L472.06,405.16 L473.23,405.17 L474.40,405.18 L475.58,405.19 L476.75,405.20 L477.92,405.21 L479.09,405.21 L480.26,405.22 L481.44,405.23 L482.61,405.24 L483.78,405.25 L484.95,405.25 L486.12,405.26 L487.29,405.27 L488.47,405.27 L489.64,405.28 L490.81,405.29 L491.98,405.29 L493.15,405.30 L494.33,405.31 L495.50,405.31 L496.67,405.32 L497.84,405.33 L499.01,405.33 L500.19,405.34 L501.36,405.34 L502.53,405.35 L503.70,405.35 L504.87,405.36 L506.05,405.36 L507.22,405.37 L508.39,405.37 L509.56,405.38 L510.73,405.38 L511.91,405.39 L513.08,405.39 L514.25,405.40 L515.42,405.40 L516.59,405.41 L517.76,405.41 L518.94,405.41 L520.11,405.42 L521.28,405.42 L522.45,405.42 L523.62,405.43 L524.80,405.43 L525.97,405.44 L527.14,405.44 L528.31,405.44 L529.48,405.45 L530.66,405.45 L531.83,405.45 L533.00,405.46" stroke="#ff00ff" stroke-width="1.35"/>
<g stroke="#ff00ff" stroke-width="1.3"><path d="M62.10 37.64L68.70 44.24M62.10 44.24L68.70 37.64"/>
<path d="M73.82 45.12L80.42 51.72M73.82 51.72L80.42 45.12"/>
<path d="M85.54 66.17L92.14 72.77M85.54 72.77L92.14 66.17"/>
<path d="M97.26 97.13L103.86 103.73M97.26 103.73L103.86 97.13"/>
<path d="M108.98 133.55L115.58 140.15M108.98 140.15L115.58 133.55"/>
<path d="M120.70 171.43L127.30 178.03M120.70 178.03L127.30 171.43"/>
<path d="M132.42 207.83L139.02 214.43M132.42 214.43L139.02 207.83"/>
<path d="M144.14 240.97L150.74 247.57M144.14 247.57L150.74 240.97"/>
<path d="M155.85 269.83L162.45 276.43M155.85 276.43L162.45 269.83"/>
<path d="M167.57 294.26L174.17 300.86M167.57 300.86L174.17 294.26"/>
<path d="M179.29 314.57L185.89 321.17M179.29 321.17L185.89 314.57"/>
<path d="M191.01 331.29L197.61 337.89M191.01 337.89L197.61 331.29"/>
<path d="M202.73 344.96L209.33 351.56M202.73 351.56L209.33 344.96"/>
<path d="M214.45 356.11L221.05 362.71M214.45 362.71L221.05 356.11"/>
<path d="M226.17 365.17L232.77 371.77M226.17 371.77L232.77 365.17"/>
<path d="M237.89 372.46L244.49 379.06M237.89 379.06L244.49 372.46"/>
<path d="M249.61 378.32L256.21 384.92M249.61 384.92L256.21 378.32"/>
<path d="M261.33 383.02L267.93 389.62M261.33 389.62L267.93 383.02"/>
<path d="M273.05 386.79L279.65 393.39M273.05 393.39L279.65 386.79"/>
<path d="M284.77 389.82L291.37 396.42M284.77 396.42L291.37 389.82"/>
<path d="M296.49 392.25L303.09 398.85M296.49 398.85L303.09 392.25"/>
<path d="M308.21 394.20L314.81 400.80M308.21 400.80L314.81 394.20"/>
<path d="M319.92 395.77L326.52 402.37M319.92 402.37L326.52 395.77"/>
<path d="M331.64 397.02L338.24 403.62M331.64 403.62L338.24 397.02"/>
<path d="M343.36 398.03L349.96 404.63M343.36 404.63L349.96 398.03"/>
<path d="M355.08 398.85L361.68 405.45M355.08 405.45L361.68 398.85"/>
<path d="M366.80 399.51L373.40 406.11M366.80 406.11L373.40 399.51"/>
<path d="M378.52 400.04L385.12 406.64M378.52 406.64L385.12 400.04"/>
<path d="M390.24 400.48L396.84 407.08M390.24 407.08L396.84 400.48"/>
<path d="M401.96 400.82L408.56 407.42M401.96 407.42L408.56 400.82"/>
<path d="M413.68 401.11L420.28 407.71M413.68 407.71L420.28 401.11"/>
<path d="M425.40 401.33L432.00 407.93M425.40 407.93L432.00 401.33"/>
<path d="M437.12 401.52L443.72 408.12M437.12 408.12L443.72 401.52"/>
<path d="M448.84 401.67L455.44 408.27M448.84 408.27L455.44 401.67"/>
<path d="M460.56 401.79L467.16 408.39M460.56 408.39L467.16 401.79"/>
<path d="M472.28 401.89L478.88 408.49M472.28 408.49L478.88 401.89"/>
<path d="M483.99 401.97L490.59 408.57M483.99 408.57L490.59 401.97"/>
<path d="M495.71 402.03L502.31 408.63M495.71 408.63L502.31 402.03"/>
<path d="M507.43 402.08L514.03 408.68M507.43 408.68L514.03 402.08"/>
<path d="M519.15 402.12L525.75 408.72M519.15 408.72L525.75 402.12"/></g>
<path d="M65.40,40.94 L66.57,47.23 L67.74,53.44 L68.92,59.58 L70.09,65.64 L71.26,71.63 L72.43,77.54 L73.60,83.38 L74.78,89.13 L75.95,94.82 L77.12,100.43 L78.29,105.96 L79.46,111.42 L80.64,116.80 L81.81,122.12 L82.98,127.35 L84.15,132.51 L85.32,137.60 L86.49,142.62 L87.67,147.56 L88.84,152.43 L90.01,157.23 L91.18,161.96 L92.35,166.62 L93.53,171.20 L94.70,175.72 L95.87,180.16 L97.04,184.54 L98.21,188.85 L99.39,193.09 L100.56,197.26 L101.73,201.37 L102.90,205.41 L104.07,209.38 L105.25,213.29 L106.42,217.13 L107.59,220.91 L108.76,224.63 L109.93,228.28 L111.11,231.87 L112.28,235.40 L113.45,238.87 L114.62,242.28 L115.79,245.63 L116.96,248.91 L118.14,252.15 L119.31,255.32 L120.48,258.44 L121.65,261.50 L122.82,264.50 L124.00,267.45 L125.17,270.35 L126.34,273.19 L127.51,275.98 L128.68,278.72 L129.86,281.41 L131.03,284.04 L132.20,286.63 L133.37,289.17 L134.54,291.66 L135.72,294.10 L136.89,296.49 L138.06,298.84 L139.23,301.14 L140.40,303.40 L141.58,305.61 L142.75,307.78 L143.92,309.91 L145.09,311.99 L146.26,314.03 L147.44,316.02 L148.61,317.98 L149.78,319.89 L150.95,321.76 L152.12,323.60 L153.29,325.39 L154.47,327.15 L155.64,328.86 L156.81,330.54 L157.98,332.19 L159.15,333.80 L160.33,335.37 L161.50,336.91 L162.67,338.42 L163.84,339.90 L165.01,341.34 L166.19,342.75 L167.36,344.13 L168.53,345.48 L169.70,346.80 L170.87,348.09 L172.05,349.35 L173.22,350.59 L174.39,351.80 L175.56,352.98 L176.73,354.14 L177.91,355.27 L179.08,356.37 L180.25,357.45 L181.42,358.51 L182.59,359.54 L183.76,360.56 L184.94,361.54 L186.11,362.51 L187.28,363.46 L188.45,364.38 L189.62,365.29 L190.80,366.17 L191.97,367.04 L193.14,367.88 L194.31,368.71 L195.48,369.52 L196.66,370.31 L197.83,371.09 L199.00,371.85 L200.17,372.59 L201.34,373.31 L202.52,374.02 L203.69,374.71 L204.86,375.39 L206.03,376.06 L207.20,376.70 L208.38,377.34 L209.55,377.96 L210.72,378.57 L211.89,379.16 L213.06,379.74 L214.24,380.31 L215.41,380.87 L216.58,381.42 L217.75,381.95 L218.92,382.47 L220.09,382.98 L221.27,383.48 L222.44,383.97 L223.61,384.45 L224.78,384.92 L225.95,385.37 L227.13,385.82 L228.30,386.26 L229.47,386.68 L230.64,387.10 L231.81,387.51 L232.99,387.91 L234.16,388.30 L235.33,388.68 L236.50,389.05 L237.67,389.41 L238.85,389.77 L240.02,390.12 L241.19,390.46 L242.36,390.79 L243.53,391.11 L244.71,391.43 L245.88,391.74 L247.05,392.05 L248.22,392.34 L249.39,392.63 L250.56,392.92 L251.74,393.20 L252.91,393.47 L254.08,393.73 L255.25,393.99 L256.42,394.25 L257.60,394.49 L258.77,394.74 L259.94,394.97 L261.11,395.20 L262.28,395.43 L263.46,395.65 L264.63,395.87 L265.80,396.08 L266.97,396.29 L268.14,396.49 L269.32,396.69 L270.49,396.88 L271.66,397.07 L272.83,397.26 L274.00,397.44 L275.18,397.62 L276.35,397.79 L277.52,397.96 L278.69,398.12 L279.86,398.29 L281.04,398.44 L282.21,398.60 L283.38,398.75 L284.55,398.90 L285.72,399.04 L286.89,399.18 L288.07,399.32 L289.24,399.46 L290.41,399.59 L291.58,399.72 L292.75,399.85 L293.93,399.97 L295.10,400.09 L296.27,400.21 L297.44,400.33 L298.61,400.44 L299.79,400.55 L300.96,400.66 L302.13,400.77 L303.30,400.87 L304.47,400.97 L305.65,401.07 L306.82,401.17 L307.99,401.26 L309.16,401.36 L310.33,401.45 L311.51,401.54 L312.68,401.62 L313.85,401.71 L315.02,401.79 L316.19,401.87 L317.36,401.95 L318.54,402.03 L319.71,402.10 L320.88,402.18 L322.05,402.25 L323.22,402.32 L324.40,402.39 L325.57,402.46 L326.74,402.53 L327.91,402.59 L329.08,402.66 L330.26,402.72 L331.43,402.78 L332.60,402.84 L333.77,402.90 L334.94,402.95 L336.12,403.01 L337.29,403.06 L338.46,403.12 L339.63,403.17 L340.80,403.22 L341.98,403.27 L343.15,403.32 L344.32,403.37 L345.49,403.42 L346.66,403.46 L347.84,403.51 L349.01,403.55 L350.18,403.59 L351.35,403.64 L352.52,403.68 L353.69,403.72 L354.87,403.76 L356.04,403.80 L357.21,403.83 L358.38,403.87 L359.55,403.91 L360.73,403.94 L361.90,403.98 L363.07,404.01 L364.24,404.05 L365.41,404.08 L366.59,404.11 L367.76,404.14 L368.93,404.17 L370.10,404.20 L371.27,404.23 L372.45,404.26 L373.62,404.29 L374.79,404.32 L375.96,404.34 L377.13,404.37 L378.31,404.40 L379.48,404.42 L380.65,404.45 L381.82,404.47 L382.99,404.49 L384.16,404.52 L385.34,404.54 L386.51,404.56 L387.68,404.58 L388.85,404.61 L390.02,404.63 L391.20,404.65 L392.37,404.67 L393.54,404.69 L394.71,404.71 L395.88,404.73 L397.06,404.74 L398.23,404.76 L399.40,404.78 L400.57,404.80 L401.74,404.81 L402.92,404.83 L404.09,404.85 L405.26,404.86 L406.43,404.88 L407.60,404.89 L408.78,404.91 L409.95,404.92 L411.12,404.94 L412.29,404.95 L413.46,404.96 L414.64,404.98 L415.81,404.99 L416.98,405.00 L418.15,405.02 L419.32,405.03 L420.49,405.04 L421.67,405.05 L422.84,405.06 L424.01,405.07 L425.18,405.09 L426.35,405.10 L427.53,405.11 L428.70,405.12 L429.87,405.13 L431.04,405.14 L432.21,405.15 L433.39,405.16 L434.56,405.17 L435.73,405.17 L436.90,405.18 L438.07,405.19 L439.25,405.20 L440.42,405.21 L441.59,405.22 L442.76,405.23 L443.93,405.23 L445.11,405.24 L446.28,405.25 L447.45,405.26 L448.62,405.26 L449.79,405.27 L450.96,405.28 L452.14,405.28 L453.31,405.29 L454.48,405.30 L455.65,405.30 L456.82,405.31 L458.00,405.32 L459.17,405.32 L460.34,405.33 L461.51,405.33 L462.68,405.34 L463.86,405.35 L465.03,405.35 L466.20,405.36 L467.37,405.36 L468.54,405.37 L469.72,405.37 L470.89,405.38 L472.06,405.38 L473.23,405.39 L474.40,405.39 L475.58,405.39 L476.75,405.40 L477.92,405.40 L479.09,405.41 L480.26,405.41 L481.44,405.41 L482.61,405.42 L483.78,405.42 L484.95,405.43 L486.12,405.43 L487.29,405.43 L488.47,405.44 L489.64,405.44 L490.81,405.44 L491.98,405.45 L493.15,405.45 L494.33,405.45 L495.50,405.46 L496.67,405.46 L497.84,405.46 L499.01,405.47 L500.19,405.47 L501.36,405.47 L502.53,405.47 L503.70,405.48 L504.87,405.48 L506.05,405.48 L507.22,405.48 L508.39,405.49 L509.56,405.49 L510.73,405.49 L511.91,405.49 L513.08,405.50 L514.25,405.50 L515.42,405.50 L516.59,405.50 L517.76,405.50 L518.94,405.51 L520.11,405.51 L521.28,405.51 L522.45,405.51 L523.62,405.51 L524.80,405.52 L525.97,405.52 L527.14,405.52 L528.31,405.52 L529.48,405.52 L530.66,405.52 L531.83,405.53 L533.00,405.53" stroke="#00ff00" stroke-width="1.35"/>
<g stroke="#00ff00" stroke-width="1.3" fill="none"><circle cx="65.40" cy="40.94" r="3.9"/>
<circle cx="77.12" cy="100.43" r="3.9"/>
<circle cx="88.84" cy="152.43" r="3.9"/>
<circle cx="100.56" cy="197.26" r="3.9"/>
<circle cx="112.28" cy="235.40" r="3.9"/>
<circle cx="124.00" cy="267.45" r="3.9"/>
<circle cx="135.72" cy="294.10" r="3.9"/>
<circle cx="147.44" cy="316.02" r="3.9"/>
<circle cx="159.15" cy="333.80" r="3.9"/>
<circle cx="170.87" cy="348.09" r="3.9"/>
<circle cx="182.59" cy="359.54" r="3.9"/>
<circle cx="194.31" cy="368.71" r="3.9"/>
<circle cx="206.03" cy="376.06" r="3.9"/>
<circle cx="217.75" cy="381.95" r="3.9"/>
<circle cx="229.47" cy="386.68" r="3.9"/>
<circle cx="241.19" cy="390.46" r="3.9"/>
<circle cx="252.91" cy="393.47" r="3.9"/>
<circle cx="264.63" cy="395.87" r="3.9"/>
<circle cx="276.35" cy="397.79" r="3.9"/>
<circle cx="288.07" cy="399.32" r="3.9"/>
<circle cx="299.79" cy="400.55" r="3.9"/>
<circle cx="311.51" cy="401.54" r="3.9"/>
<circle cx="323.22" cy="402.32" r="3.9"/>
<circle cx="334.94" cy="402.95" r="3.9"/>
<circle cx="346.66" cy="403.46" r="3.9"/>
<circle cx="358.38" cy="403.87" r="3.9"/>
<circle cx="370.10" cy="404.20" r="3.9"/>
<circle cx="381.82" cy="404.47" r="3.9"/>
<circle cx="393.54" cy="404.69" r="3.9"/>
<circle cx="405.26" cy="404.86" r="3.9"/>
<circle cx="416.98" cy="405.00" r="3.9"/>
<circle cx="428.70" cy="405.12" r="3.9"/>
<circle cx="440.42" cy="405.21" r="3.9"/>
<circle cx="452.14" cy="405.28" r="3.9"/>
<circle cx="463.86" cy="405.35" r="3.9"/>
<circle cx="475.58" cy="405.39" r="3.9"/>
<circle cx="487.29" cy="405.43" r="3.9"/>
<circle cx="499.01" cy="405.47" r="3.9"/>
<circle cx="510.73" cy="405.49" r="3.9"/>
<circle cx="522.45" cy="405.51" r="3.9"/></g>
</g>
<rect x="429.5" y="51.5" width="89.0" height="105.8" fill="#fff" stroke="#262626" stroke-width="1"/>
<g fill="none">
<line x1="433.4" y1="61.90" x2="477.0" y2="61.90" stroke="#0000ff" stroke-width="2.1"/>
<line x1="433.4" y1="78.98" x2="477.0" y2="78.98" stroke="#00ffff" stroke-width="2.2" stroke-dasharray="6.1 5.5"/>
<line x1="433.4" y1="96.06" x2="477.0" y2="96.06" stroke="#000000" stroke-width="2.5" stroke-dasharray="2.5 1.86"/>
<line x1="433.4" y1="113.14" x2="477.0" y2="113.14" stroke="#ff0000" stroke-width="2.3" stroke-dasharray="5.7 1.6 2.6 1.6"/>
<line x1="433.4" y1="130.22" x2="477.0" y2="130.22" stroke="#ff00ff" stroke-width="1.35"/>
<path d="M451.90 126.92L458.50 133.52M451.90 133.52L458.50 126.92" stroke="#ff00ff" stroke-width="1.3"/>
<line x1="433.4" y1="147.30" x2="477.0" y2="147.30" stroke="#00ff00" stroke-width="1.35"/>
<circle cx="455.20" cy="147.30" r="3.9" stroke="#00ff00" stroke-width="1.3"/>
</g>
<g style="font-family:'Liberation Sans',Arial,Helvetica,sans-serif;font-size:12.7px" fill="#000" stroke="#000" stroke-width="0.3">
<text y="68.40"><tspan x="480.0" style="font-family:'Liberation Serif','Times New Roman',serif;font-style:italic;font-size:13.6px">α</tspan><tspan x="487.9">=</tspan>0</text>
<text y="85.48"><tspan x="480.0" style="font-family:'Liberation Serif','Times New Roman',serif;font-style:italic;font-size:13.6px">α</tspan><tspan x="487.9">=</tspan>1/3</text>
<text y="102.56"><tspan x="480.0" style="font-family:'Liberation Serif','Times New Roman',serif;font-style:italic;font-size:13.6px">α</tspan><tspan x="487.9">=</tspan>0.5</text>
<text y="119.64"><tspan x="480.0" style="font-family:'Liberation Serif','Times New Roman',serif;font-style:italic;font-size:13.6px">α</tspan><tspan x="487.9">=</tspan>1</text>
<text y="136.72"><tspan x="480.0" style="font-family:'Liberation Serif','Times New Roman',serif;font-style:italic;font-size:13.6px">α</tspan><tspan x="487.9">=</tspan>2</text>
<text y="153.80"><tspan x="480.0" style="font-family:'Liberation Serif','Times New Roman',serif;font-style:italic;font-size:13.6px">α</tspan><tspan x="487.9">=</tspan><tspan dx="1" dy="0.7" style="font-family:'Noto Sans CJK SC','DejaVu Sans',sans-serif;font-size:12px">∞</tspan></text>
</g>
<text transform="translate(161.3,25.5)" style="font-family:'Liberation Sans',Arial,Helvetica,sans-serif;font-size:15.8px" fill="#000" stroke="#000" stroke-width="0.18"><tspan x="0" y="0">S</tspan><tspan x="10.50" y="-8.2" style="font-size:12.5px">H</tspan><tspan x="11.50" y="8.2" style="font-family:'Liberation Serif','Times New Roman',serif;font-style:italic;font-size:13.6px">α</tspan><tspan x="20.30" y="0">(</tspan><tspan x="26.00" y="0" style="font-style:italic;font-size:14.5px">ρ</tspan><tspan x="34.30" y="0">) and k is arbitrary real value (k&gt;0)</tspan></text>
<text transform="translate(24.0,242.4) rotate(-90)" style="font-family:'Liberation Sans',Arial,Helvetica,sans-serif;font-size:15.8px" fill="#000" stroke="#000" stroke-width="0.18"><tspan x="0" y="0">S</tspan><tspan x="11.10" y="-8.2" style="font-size:12.5px">H</tspan><tspan x="12.10" y="8.2" style="font-family:'Liberation Serif','Times New Roman',serif;font-style:italic;font-size:13.6px">α</tspan><tspan x="20.90" y="0">(</tspan><tspan x="26.60" y="0" style="font-style:italic;font-size:14.5px">ρ</tspan><tspan x="34.90" y="0">)</tspan></text>
<text x="299.20" y="448.4" text-anchor="middle" style="font-family:'Liberation Sans',Arial,Helvetica,sans-serif;font-size:15.7px" fill="#000">t</text>
</svg>
</body></html>
